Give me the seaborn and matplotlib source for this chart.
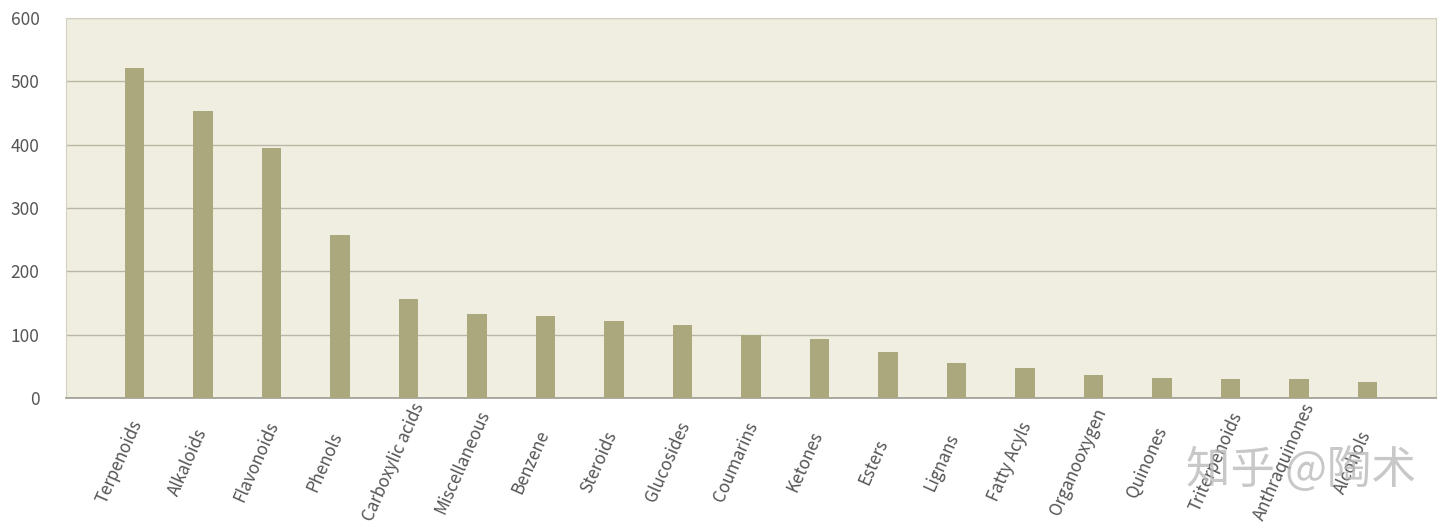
import matplotlib
matplotlib.use("Agg")
import matplotlib.pyplot as plt
import matplotlib.transforms as mtransforms
import seaborn as sns

# ── data ─────────────────────────────────────────────────────────────────────
categories = [
    "Terpenoids", "Alkaloids", "Flavonoids", "Phenols", "Carboxylic acids",
    "Miscellaneous", "Benzene", "Steroids", "Glucosides", "Coumarins",
    "Ketones", "Esters", "Lignans", "Fatty Acyls", "Organooxygen",
    "Quinones", "Triterpenoids", "Anthraquinones", "Alcohols",
]
counts = [521, 453, 395, 257, 156, 133, 130, 122, 116, 100,
          93, 72, 56, 47, 36, 32, 30, 30, 25]
yticks = [0, 100, 200, 300, 400, 500, 600]

# ── style ────────────────────────────────────────────────────────────────────
sns.set_style("white")
plt.rcParams["font.family"] = ["Noto Sans CJK SC", "DejaVu Sans"]

BAR_COLOR = "#aca87e"
BG_COLOR  = "#f0eee0"
GRID      = "#b9b6a6"
TEXT      = "#555555"

fig = plt.figure(figsize=(14.53, 5.28), dpi=100)
ax = fig.add_axes([0.0454, 0.2462, 0.9429, 0.7197])
ax.set_facecolor(BG_COLOR)

sns.barplot(x=categories, y=counts, color=BAR_COLOR, saturation=1,
            width=0.29, linewidth=0, ax=ax, zorder=3)

ax.set_xlim(-1, len(categories))
ax.set_ylim(0, 600)
ax.set_yticks(yticks)
ax.yaxis.grid(True, color=GRID, linewidth=1, zorder=0)
ax.set_axisbelow(True)
ax.set_xlabel("")
ax.set_ylabel("")

for side in ["top", "left", "right"]:
    ax.spines[side].set_color("#d4d1c2")
    ax.spines[side].set_linewidth(0.8)
ax.spines["bottom"].set_color("#9e9c92")
ax.spines["bottom"].set_linewidth(1.2)

ax.tick_params(axis="y", length=0, pad=19, labelsize=12.5, labelcolor=TEXT)
ax.tick_params(axis="x", length=0, pad=46, labelsize=12.2, labelcolor=TEXT)

# rotated labels centred a bit left of each bar
shift = mtransforms.ScaledTranslation(-0.15, 0, fig.dpi_scale_trans)
for lab in ax.get_xticklabels():
    lab.set_rotation(66)
    lab.set_ha("center")
    lab.set_va("center")
    lab.set_rotation_mode("anchor")
    lab.set_transform(lab.get_transform() + shift)

# watermark
fig.text(0.816, 0.085, "知乎 @陶术", fontsize=32, color="#bbbbbb", alpha=0.8,
         family=["Noto Sans CJK SC", "DejaVu Sans"], zorder=10)

plt.savefig("out.png", dpi=100)
plt.close()
